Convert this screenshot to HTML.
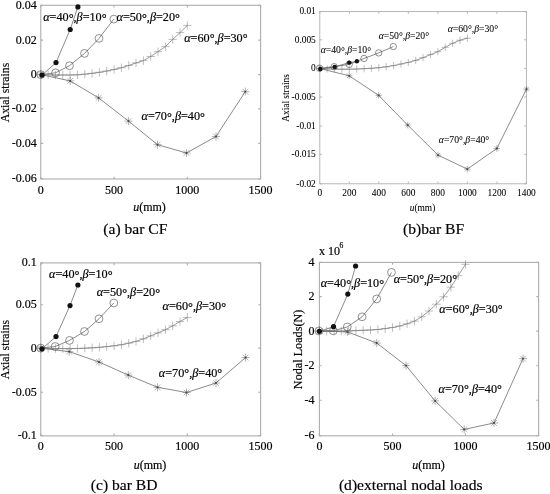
<!DOCTYPE html>
<html><head><meta charset="utf-8"><title>figure</title>
<style>
html,body{margin:0;padding:0;background:#fff}
svg{display:block}
text{font-family:"Liberation Serif",serif;fill:#000;stroke:#000;stroke-width:0.18px}
.i{font-style:italic}
.sm text{stroke-width:0.06px}
.c{font-size:15.6px}
</style></head><body>
<svg width="550" height="494" viewBox="0 0 550 494">
<rect width="550" height="494" fill="#fff"/>
<rect x="40.8" y="5.3" width="219.8" height="173.7" fill="none" stroke="#adadad" stroke-width="1.1"/>
<path d="M40.8 179.0v-2.3M40.8 5.3v2.3" stroke="#adadad" stroke-width="1.1" fill="none"/>
<text x="40.8" y="194.0" text-anchor="middle" font-size="12">0</text>
<path d="M114.1 179.0v-2.3M114.1 5.3v2.3" stroke="#adadad" stroke-width="1.1" fill="none"/>
<text x="114.1" y="194.0" text-anchor="middle" font-size="12">500</text>
<path d="M187.3 179.0v-2.3M187.3 5.3v2.3" stroke="#adadad" stroke-width="1.1" fill="none"/>
<text x="187.3" y="194.0" text-anchor="middle" font-size="12">1000</text>
<path d="M260.6 179.0v-2.3M260.6 5.3v2.3" stroke="#adadad" stroke-width="1.1" fill="none"/>
<text x="260.6" y="194.0" text-anchor="middle" font-size="12">1500</text>
<path d="M40.8 5.3h2.3M260.6 5.3h-2.3" stroke="#adadad" stroke-width="1.1" fill="none"/>
<text x="36.8" y="8.7" text-anchor="end" font-size="12">0.04</text>
<path d="M40.8 40.1h2.3M260.6 40.1h-2.3" stroke="#adadad" stroke-width="1.1" fill="none"/>
<text x="36.8" y="43.5" text-anchor="end" font-size="12">0.02</text>
<path d="M40.8 74.6h2.3M260.6 74.6h-2.3" stroke="#adadad" stroke-width="1.1" fill="none"/>
<text x="36.8" y="78.0" text-anchor="end" font-size="12">0</text>
<path d="M40.8 108.9h2.3M260.6 108.9h-2.3" stroke="#adadad" stroke-width="1.1" fill="none"/>
<text x="36.8" y="112.3" text-anchor="end" font-size="12">-0.02</text>
<path d="M40.8 143.4h2.3M260.6 143.4h-2.3" stroke="#adadad" stroke-width="1.1" fill="none"/>
<text x="36.8" y="146.8" text-anchor="end" font-size="12">-0.04</text>
<path d="M40.8 179.0h2.3M260.6 179.0h-2.3" stroke="#adadad" stroke-width="1.1" fill="none"/>
<text x="36.8" y="182.4" text-anchor="end" font-size="12">-0.06</text>
<path d="M42.0 75.1 L56.0 62.6 L70.2 29.5 L77.9 6.9" fill="none" stroke="#3c3c3c" stroke-width="0.6"/>
<path d="M40.7 74.6 L55.5 72.8 L69.5 65.7 L84.5 53.4 L99.0 38.4 L113.8 19.1" fill="none" stroke="#3c3c3c" stroke-width="0.6"/>
<path d="M40.8 74.6 L48.1 74.9 L55.5 75.0 L62.8 75.0 L70.1 75.0 L77.4 74.8 L84.8 74.2 L92.1 73.3 L99.4 72.3 L106.7 71.0 L114.1 69.5 L121.4 67.7 L128.7 65.5 L136.0 62.9 L143.4 60.6 L150.7 56.5 L158.0 51.7 L165.4 46.6 L172.7 39.4 L180.0 32.6 L187.3 25.4" fill="none" stroke="#3c3c3c" stroke-width="0.5"/>
<path d="M41.0 74.6 L70.2 80.9 L98.6 97.9 L128.5 121.1 L157.5 144.7 L186.5 153.0 L216.0 136.5 L245.3 91.6" fill="none" stroke="#3c3c3c" stroke-width="0.6"/>
<circle cx="40.7" cy="74.6" r="3.9" fill="none" stroke="#555" stroke-width="0.65"/>
<circle cx="55.5" cy="72.8" r="3.9" fill="none" stroke="#555" stroke-width="0.65"/>
<circle cx="69.5" cy="65.7" r="3.9" fill="none" stroke="#555" stroke-width="0.65"/>
<circle cx="84.5" cy="53.4" r="3.9" fill="none" stroke="#555" stroke-width="0.65"/>
<circle cx="99.0" cy="38.4" r="3.9" fill="none" stroke="#555" stroke-width="0.65"/>
<circle cx="113.8" cy="19.1" r="3.9" fill="none" stroke="#555" stroke-width="0.65"/>
<path d="M36.6 74.6h8.4M40.8 70.4v8.4M43.9 74.9h8.4M48.1 70.7v8.4M51.3 75.0h8.4M55.5 70.8v8.4M58.6 75.0h8.4M62.8 70.8v8.4M65.9 75.0h8.4M70.1 70.8v8.4M73.2 74.8h8.4M77.4 70.6v8.4M80.6 74.2h8.4M84.8 70.0v8.4M87.9 73.3h8.4M92.1 69.1v8.4M95.2 72.3h8.4M99.4 68.1v8.4M102.5 71.0h8.4M106.7 66.8v8.4M109.9 69.5h8.4M114.1 65.3v8.4M117.2 67.7h8.4M121.4 63.5v8.4M124.5 65.5h8.4M128.7 61.3v8.4M131.8 62.9h8.4M136.0 58.7v8.4M139.2 60.6h8.4M143.4 56.4v8.4M146.5 56.5h8.4M150.7 52.3v8.4M153.8 51.7h8.4M158.0 47.5v8.4M161.2 46.6h8.4M165.4 42.4v8.4M168.5 39.4h8.4M172.7 35.2v8.4M175.8 32.6h8.4M180.0 28.4v8.4M183.1 25.4h8.4M187.3 21.2v8.4" fill="none" stroke="#7c7c7c" stroke-width="0.5"/>
<path d="M37.0 74.6h8.0M41.0 70.6v8.0M38.2 71.8l5.7 5.7M38.2 77.4l5.7 -5.7M66.2 80.9h8.0M70.2 76.9v8.0M67.4 78.1l5.7 5.7M67.4 83.7l5.7 -5.7M94.6 97.9h8.0M98.6 93.9v8.0M95.8 95.1l5.7 5.7M95.8 100.7l5.7 -5.7M124.5 121.1h8.0M128.5 117.1v8.0M125.7 118.3l5.7 5.7M125.7 123.9l5.7 -5.7M153.5 144.7h8.0M157.5 140.7v8.0M154.7 141.9l5.7 5.7M154.7 147.5l5.7 -5.7M182.5 153.0h8.0M186.5 149.0v8.0M183.7 150.2l5.7 5.7M183.7 155.8l5.7 -5.7M212.0 136.5h8.0M216.0 132.5v8.0M213.2 133.7l5.7 5.7M213.2 139.3l5.7 -5.7M241.3 91.6h8.0M245.3 87.6v8.0M242.5 88.8l5.7 5.7M242.5 94.4l5.7 -5.7" fill="none" stroke="#666" stroke-width="0.5"/>
<circle cx="41.0" cy="74.6" r="0.9" fill="#444"/>
<circle cx="70.2" cy="80.9" r="0.9" fill="#444"/>
<circle cx="98.6" cy="97.9" r="0.9" fill="#444"/>
<circle cx="128.5" cy="121.1" r="0.9" fill="#444"/>
<circle cx="157.5" cy="144.7" r="0.9" fill="#444"/>
<circle cx="186.5" cy="153.0" r="0.9" fill="#444"/>
<circle cx="216.0" cy="136.5" r="0.9" fill="#444"/>
<circle cx="245.3" cy="91.6" r="0.9" fill="#444"/>
<circle cx="42.0" cy="75.1" r="2.6" fill="#111"/>
<circle cx="56.0" cy="62.6" r="2.6" fill="#111"/>
<circle cx="70.2" cy="29.5" r="2.6" fill="#111"/>
<circle cx="77.9" cy="6.9" r="2.6" fill="#111"/>
<text x="43.2" y="21.1" class="l" font-size="12.2"><tspan class="i">α</tspan>=40<tspan dy="0.79">°</tspan><tspan dy="-0.79">,</tspan><tspan class="i">β</tspan>=10<tspan dy="0.79">°</tspan></text>
<text x="116.5" y="21.1" class="l" font-size="12.2"><tspan class="i">α</tspan>=50<tspan dy="0.79">°</tspan><tspan dy="-0.79">,</tspan><tspan class="i">β</tspan>=20<tspan dy="0.79">°</tspan></text>
<text x="184.2" y="41.6" class="l" font-size="12.2"><tspan class="i">α</tspan>=60<tspan dy="0.79">°</tspan><tspan dy="-0.79">,</tspan><tspan class="i">β</tspan>=30<tspan dy="0.79">°</tspan></text>
<text x="141.5" y="119.8" class="l" font-size="12.2"><tspan class="i">α</tspan>=70<tspan dy="0.79">°</tspan><tspan dy="-0.79">,</tspan><tspan class="i">β</tspan>=40<tspan dy="0.79">°</tspan></text>
<text transform="translate(9.0 92.5) rotate(-90)" text-anchor="middle" font-size="11.7">Axial strains</text>
<text x="149.5" y="211.4" text-anchor="middle" font-size="12"><tspan class="i">u</tspan>(mm)</text>
<text x="135.4" y="234.0" text-anchor="middle" class="c">(a) bar CF</text>
<g class="sm">
<rect x="319.8" y="11.5" width="206.6" height="172.3" fill="none" stroke="#b0b0b0" stroke-width="0.9"/>
<path d="M319.8 183.8v-2.3M319.8 11.5v2.3" stroke="#b0b0b0" stroke-width="0.9" fill="none"/>
<text x="319.8" y="195.7" text-anchor="middle" font-size="9.4">0</text>
<path d="M349.3 183.8v-2.3M349.3 11.5v2.3" stroke="#b0b0b0" stroke-width="0.9" fill="none"/>
<text x="349.3" y="195.7" text-anchor="middle" font-size="9.4">200</text>
<path d="M378.8 183.8v-2.3M378.8 11.5v2.3" stroke="#b0b0b0" stroke-width="0.9" fill="none"/>
<text x="378.8" y="195.7" text-anchor="middle" font-size="9.4">400</text>
<path d="M408.3 183.8v-2.3M408.3 11.5v2.3" stroke="#b0b0b0" stroke-width="0.9" fill="none"/>
<text x="408.3" y="195.7" text-anchor="middle" font-size="9.4">600</text>
<path d="M437.9 183.8v-2.3M437.9 11.5v2.3" stroke="#b0b0b0" stroke-width="0.9" fill="none"/>
<text x="437.9" y="195.7" text-anchor="middle" font-size="9.4">800</text>
<path d="M467.4 183.8v-2.3M467.4 11.5v2.3" stroke="#b0b0b0" stroke-width="0.9" fill="none"/>
<text x="467.4" y="195.7" text-anchor="middle" font-size="9.4">1000</text>
<path d="M496.9 183.8v-2.3M496.9 11.5v2.3" stroke="#b0b0b0" stroke-width="0.9" fill="none"/>
<text x="496.9" y="195.7" text-anchor="middle" font-size="9.4">1200</text>
<path d="M526.4 183.8v-2.3M526.4 11.5v2.3" stroke="#b0b0b0" stroke-width="0.9" fill="none"/>
<text x="526.4" y="195.7" text-anchor="middle" font-size="9.4">1400</text>
<path d="M319.8 11.5h2.3M526.4 11.5h-2.3" stroke="#b0b0b0" stroke-width="0.9" fill="none"/>
<text x="315.8" y="14.3" text-anchor="end" font-size="9.4">0.01</text>
<path d="M319.8 39.8h2.3M526.4 39.8h-2.3" stroke="#b0b0b0" stroke-width="0.9" fill="none"/>
<text x="315.8" y="42.6" text-anchor="end" font-size="9.4">0.005</text>
<path d="M319.8 68.3h2.3M526.4 68.3h-2.3" stroke="#b0b0b0" stroke-width="0.9" fill="none"/>
<text x="315.8" y="71.1" text-anchor="end" font-size="9.4">0</text>
<path d="M319.8 97.0h2.3M526.4 97.0h-2.3" stroke="#b0b0b0" stroke-width="0.9" fill="none"/>
<text x="315.8" y="99.8" text-anchor="end" font-size="9.4">-0.005</text>
<path d="M319.8 126.0h2.3M526.4 126.0h-2.3" stroke="#b0b0b0" stroke-width="0.9" fill="none"/>
<text x="315.8" y="128.8" text-anchor="end" font-size="9.4">-0.01</text>
<path d="M319.8 154.3h2.3M526.4 154.3h-2.3" stroke="#b0b0b0" stroke-width="0.9" fill="none"/>
<text x="315.8" y="157.1" text-anchor="end" font-size="9.4">-0.015</text>
<path d="M319.8 183.8h2.3M526.4 183.8h-2.3" stroke="#b0b0b0" stroke-width="0.9" fill="none"/>
<text x="315.8" y="186.6" text-anchor="end" font-size="9.4">-0.02</text>
<path d="M320.2 69.0 L334.7 66.9 L349.2 62.6 L356.9 61.3" fill="none" stroke="#3c3c3c" stroke-width="0.6"/>
<path d="M319.5 68.2 L334.2 66.7 L349.2 64.4 L364.0 58.5 L378.7 52.9 L393.3 46.6" fill="none" stroke="#3c3c3c" stroke-width="0.6"/>
<path d="M319.8 68.6 L327.2 68.9 L334.6 69.1 L341.9 69.2 L349.3 69.2 L356.7 69.0 L364.1 68.7 L371.4 68.3 L378.8 67.7 L386.2 66.8 L393.6 65.6 L401.0 64.0 L408.3 62.4 L415.7 60.4 L423.1 57.6 L430.5 54.6 L437.9 51.7 L445.2 47.3 L452.6 43.3 L460.0 40.2 L467.4 38.2" fill="none" stroke="#3c3c3c" stroke-width="0.5"/>
<path d="M320.2 68.6 L349.2 75.8 L378.7 95.4 L407.7 125.1 L438.0 155.1 L467.3 169.1 L496.8 148.5 L526.5 89.1" fill="none" stroke="#3c3c3c" stroke-width="0.6"/>
<circle cx="319.5" cy="68.2" r="3.2" fill="none" stroke="#555" stroke-width="0.65"/>
<circle cx="334.2" cy="66.7" r="3.2" fill="none" stroke="#555" stroke-width="0.65"/>
<circle cx="349.2" cy="64.4" r="3.2" fill="none" stroke="#555" stroke-width="0.65"/>
<circle cx="364.0" cy="58.5" r="3.2" fill="none" stroke="#555" stroke-width="0.65"/>
<circle cx="378.7" cy="52.9" r="3.2" fill="none" stroke="#555" stroke-width="0.65"/>
<circle cx="393.3" cy="46.6" r="3.2" fill="none" stroke="#555" stroke-width="0.65"/>
<path d="M316.2 68.6h7.2M319.8 65.0v7.2M323.6 68.9h7.2M327.2 65.3v7.2M331.0 69.1h7.2M334.6 65.5v7.2M338.3 69.2h7.2M341.9 65.6v7.2M345.7 69.2h7.2M349.3 65.6v7.2M353.1 69.0h7.2M356.7 65.4v7.2M360.5 68.7h7.2M364.1 65.1v7.2M367.8 68.3h7.2M371.4 64.7v7.2M375.2 67.7h7.2M378.8 64.1v7.2M382.6 66.8h7.2M386.2 63.2v7.2M390.0 65.6h7.2M393.6 62.0v7.2M397.4 64.0h7.2M401.0 60.4v7.2M404.7 62.4h7.2M408.3 58.8v7.2M412.1 60.4h7.2M415.7 56.8v7.2M419.5 57.6h7.2M423.1 54.0v7.2M426.9 54.6h7.2M430.5 51.0v7.2M434.3 51.7h7.2M437.9 48.1v7.2M441.6 47.3h7.2M445.2 43.7v7.2M449.0 43.3h7.2M452.6 39.7v7.2M456.4 40.2h7.2M460.0 36.6v7.2M463.8 38.2h7.2M467.4 34.6v7.2" fill="none" stroke="#7c7c7c" stroke-width="0.5"/>
<path d="M317.0 68.6h6.4M320.2 65.4v6.4M317.9 66.3l4.5 4.5M317.9 70.9l4.5 -4.5M346.0 75.8h6.4M349.2 72.6v6.4M346.9 73.5l4.5 4.5M346.9 78.1l4.5 -4.5M375.5 95.4h6.4M378.7 92.2v6.4M376.4 93.1l4.5 4.5M376.4 97.7l4.5 -4.5M404.5 125.1h6.4M407.7 121.9v6.4M405.4 122.8l4.5 4.5M405.4 127.4l4.5 -4.5M434.8 155.1h6.4M438.0 151.9v6.4M435.7 152.8l4.5 4.5M435.7 157.4l4.5 -4.5M464.1 169.1h6.4M467.3 165.9v6.4M465.0 166.8l4.5 4.5M465.0 171.4l4.5 -4.5M493.6 148.5h6.4M496.8 145.3v6.4M494.5 146.2l4.5 4.5M494.5 150.8l4.5 -4.5M523.3 89.1h6.4M526.5 85.9v6.4M524.2 86.8l4.5 4.5M524.2 91.4l4.5 -4.5" fill="none" stroke="#666" stroke-width="0.5"/>
<circle cx="320.2" cy="68.6" r="0.9" fill="#444"/>
<circle cx="349.2" cy="75.8" r="0.9" fill="#444"/>
<circle cx="378.7" cy="95.4" r="0.9" fill="#444"/>
<circle cx="407.7" cy="125.1" r="0.9" fill="#444"/>
<circle cx="438.0" cy="155.1" r="0.9" fill="#444"/>
<circle cx="467.3" cy="169.1" r="0.9" fill="#444"/>
<circle cx="496.8" cy="148.5" r="0.9" fill="#444"/>
<circle cx="526.5" cy="89.1" r="0.9" fill="#444"/>
<circle cx="320.2" cy="69.0" r="2.2" fill="#111"/>
<circle cx="334.7" cy="66.9" r="2.2" fill="#111"/>
<circle cx="349.2" cy="62.6" r="2.2" fill="#111"/>
<circle cx="356.9" cy="61.3" r="2.2" fill="#111"/>
<text x="320.7" y="53.3" class="l" font-size="9.7"><tspan class="i">α</tspan>=40<tspan dy="1.20">°</tspan><tspan dy="-1.20">,</tspan><tspan class="i">β</tspan>=10<tspan dy="1.20">°</tspan></text>
<text x="378.7" y="38.9" class="l" font-size="9.7"><tspan class="i">α</tspan>=50<tspan dy="1.20">°</tspan><tspan dy="-1.20">,</tspan><tspan class="i">β</tspan>=20<tspan dy="1.20">°</tspan></text>
<text x="447.7" y="31.9" class="l" font-size="9.7"><tspan class="i">α</tspan>=60<tspan dy="1.20">°</tspan><tspan dy="-1.20">,</tspan><tspan class="i">β</tspan>=30<tspan dy="1.20">°</tspan></text>
<text x="438.8" y="142.6" class="l" font-size="9.7"><tspan class="i">α</tspan>=70<tspan dy="1.20">°</tspan><tspan dy="-1.20">,</tspan><tspan class="i">β</tspan>=40<tspan dy="1.20">°</tspan></text>
<text transform="translate(289.4 98) rotate(-90)" text-anchor="middle" font-size="9.4">Axial strains</text>
<text x="422.5" y="210.9" text-anchor="middle" font-size="9.4"><tspan class="i">u</tspan>(mm)</text>
</g>
<text x="433.6" y="234.2" text-anchor="middle" class="c">(b)bar BF</text>
<rect x="40.8" y="262.9" width="219.8" height="173.0" fill="none" stroke="#adadad" stroke-width="1.1"/>
<path d="M40.8 435.9v-2.3M40.8 262.9v2.3" stroke="#adadad" stroke-width="1.1" fill="none"/>
<text x="40.8" y="450.1" text-anchor="middle" font-size="12">0</text>
<path d="M114.1 435.9v-2.3M114.1 262.9v2.3" stroke="#adadad" stroke-width="1.1" fill="none"/>
<text x="114.1" y="450.1" text-anchor="middle" font-size="12">500</text>
<path d="M187.3 435.9v-2.3M187.3 262.9v2.3" stroke="#adadad" stroke-width="1.1" fill="none"/>
<text x="187.3" y="450.1" text-anchor="middle" font-size="12">1000</text>
<path d="M260.6 435.9v-2.3M260.6 262.9v2.3" stroke="#adadad" stroke-width="1.1" fill="none"/>
<text x="260.6" y="450.1" text-anchor="middle" font-size="12">1500</text>
<path d="M40.8 262.9h2.3M260.6 262.9h-2.3" stroke="#adadad" stroke-width="1.1" fill="none"/>
<text x="36.8" y="266.3" text-anchor="end" font-size="12">0.1</text>
<path d="M40.8 304.8h2.3M260.6 304.8h-2.3" stroke="#adadad" stroke-width="1.1" fill="none"/>
<text x="36.8" y="308.2" text-anchor="end" font-size="12">0.05</text>
<path d="M40.8 348.1h2.3M260.6 348.1h-2.3" stroke="#adadad" stroke-width="1.1" fill="none"/>
<text x="36.8" y="351.5" text-anchor="end" font-size="12">0</text>
<path d="M40.8 392.2h2.3M260.6 392.2h-2.3" stroke="#adadad" stroke-width="1.1" fill="none"/>
<text x="36.8" y="395.6" text-anchor="end" font-size="12">-0.05</text>
<path d="M40.8 435.5h2.3M260.6 435.5h-2.3" stroke="#adadad" stroke-width="1.1" fill="none"/>
<text x="36.8" y="438.9" text-anchor="end" font-size="12">-0.1</text>
<path d="M42.0 348.8 L56.0 336.6 L70.0 305.6 L77.9 285.0" fill="none" stroke="#3c3c3c" stroke-width="0.6"/>
<path d="M40.7 348.1 L55.2 346.5 L69.5 340.4 L84.5 331.5 L99.0 318.8 L113.8 303.0" fill="none" stroke="#3c3c3c" stroke-width="0.6"/>
<path d="M40.8 348.1 L48.1 348.4 L55.5 348.5 L62.8 348.6 L70.1 348.6 L77.4 348.5 L84.8 348.2 L92.1 347.8 L99.4 347.3 L106.7 346.6 L114.1 345.8 L121.4 344.7 L128.7 343.2 L136.0 341.4 L143.4 338.8 L150.7 335.9 L158.0 332.9 L165.4 329.7 L172.7 325.9 L180.0 321.5 L187.3 317.5" fill="none" stroke="#3c3c3c" stroke-width="0.5"/>
<path d="M41.0 348.3 L69.2 351.6 L99.0 362.0 L128.3 375.1 L157.5 387.3 L186.5 392.5 L216.0 383.0 L245.6 357.5" fill="none" stroke="#3c3c3c" stroke-width="0.6"/>
<circle cx="40.7" cy="348.1" r="3.9" fill="none" stroke="#555" stroke-width="0.65"/>
<circle cx="55.2" cy="346.5" r="3.9" fill="none" stroke="#555" stroke-width="0.65"/>
<circle cx="69.5" cy="340.4" r="3.9" fill="none" stroke="#555" stroke-width="0.65"/>
<circle cx="84.5" cy="331.5" r="3.9" fill="none" stroke="#555" stroke-width="0.65"/>
<circle cx="99.0" cy="318.8" r="3.9" fill="none" stroke="#555" stroke-width="0.65"/>
<circle cx="113.8" cy="303.0" r="3.9" fill="none" stroke="#555" stroke-width="0.65"/>
<path d="M36.6 348.1h8.4M40.8 343.9v8.4M43.9 348.4h8.4M48.1 344.2v8.4M51.3 348.5h8.4M55.5 344.3v8.4M58.6 348.6h8.4M62.8 344.4v8.4M65.9 348.6h8.4M70.1 344.4v8.4M73.2 348.5h8.4M77.4 344.3v8.4M80.6 348.2h8.4M84.8 344.0v8.4M87.9 347.8h8.4M92.1 343.6v8.4M95.2 347.3h8.4M99.4 343.1v8.4M102.5 346.6h8.4M106.7 342.4v8.4M109.9 345.8h8.4M114.1 341.6v8.4M117.2 344.7h8.4M121.4 340.5v8.4M124.5 343.2h8.4M128.7 339.0v8.4M131.8 341.4h8.4M136.0 337.2v8.4M139.2 338.8h8.4M143.4 334.6v8.4M146.5 335.9h8.4M150.7 331.7v8.4M153.8 332.9h8.4M158.0 328.7v8.4M161.2 329.7h8.4M165.4 325.5v8.4M168.5 325.9h8.4M172.7 321.7v8.4M175.8 321.5h8.4M180.0 317.3v8.4M183.1 317.5h8.4M187.3 313.3v8.4" fill="none" stroke="#7c7c7c" stroke-width="0.5"/>
<path d="M37.0 348.3h8.0M41.0 344.3v8.0M38.2 345.5l5.7 5.7M38.2 351.1l5.7 -5.7M65.2 351.6h8.0M69.2 347.6v8.0M66.4 348.8l5.7 5.7M66.4 354.4l5.7 -5.7M95.0 362.0h8.0M99.0 358.0v8.0M96.2 359.2l5.7 5.7M96.2 364.8l5.7 -5.7M124.3 375.1h8.0M128.3 371.1v8.0M125.5 372.3l5.7 5.7M125.5 377.9l5.7 -5.7M153.5 387.3h8.0M157.5 383.3v8.0M154.7 384.5l5.7 5.7M154.7 390.1l5.7 -5.7M182.5 392.5h8.0M186.5 388.5v8.0M183.7 389.7l5.7 5.7M183.7 395.3l5.7 -5.7M212.0 383.0h8.0M216.0 379.0v8.0M213.2 380.2l5.7 5.7M213.2 385.8l5.7 -5.7M241.6 357.5h8.0M245.6 353.5v8.0M242.8 354.7l5.7 5.7M242.8 360.3l5.7 -5.7" fill="none" stroke="#666" stroke-width="0.5"/>
<circle cx="41.0" cy="348.3" r="0.9" fill="#444"/>
<circle cx="69.2" cy="351.6" r="0.9" fill="#444"/>
<circle cx="99.0" cy="362.0" r="0.9" fill="#444"/>
<circle cx="128.3" cy="375.1" r="0.9" fill="#444"/>
<circle cx="157.5" cy="387.3" r="0.9" fill="#444"/>
<circle cx="186.5" cy="392.5" r="0.9" fill="#444"/>
<circle cx="216.0" cy="383.0" r="0.9" fill="#444"/>
<circle cx="245.6" cy="357.5" r="0.9" fill="#444"/>
<circle cx="42.0" cy="348.8" r="2.6" fill="#111"/>
<circle cx="56.0" cy="336.6" r="2.6" fill="#111"/>
<circle cx="70.0" cy="305.6" r="2.6" fill="#111"/>
<circle cx="77.9" cy="285.0" r="2.6" fill="#111"/>
<text x="49.1" y="278.1" class="l" font-size="12.2"><tspan class="i">α</tspan>=40<tspan dy="0.79">°</tspan><tspan dy="-0.79">,</tspan><tspan class="i">β</tspan>=10<tspan dy="0.79">°</tspan></text>
<text x="96.7" y="295.9" class="l" font-size="12.2"><tspan class="i">α</tspan>=50<tspan dy="0.79">°</tspan><tspan dy="-0.79">,</tspan><tspan class="i">β</tspan>=20<tspan dy="0.79">°</tspan></text>
<text x="162.6" y="310.4" class="l" font-size="12.2"><tspan class="i">α</tspan>=60<tspan dy="0.79">°</tspan><tspan dy="-0.79">,</tspan><tspan class="i">β</tspan>=30<tspan dy="0.79">°</tspan></text>
<text x="158.8" y="376.6" class="l" font-size="12.2"><tspan class="i">α</tspan>=70<tspan dy="0.79">°</tspan><tspan dy="-0.79">,</tspan><tspan class="i">β</tspan>=40<tspan dy="0.79">°</tspan></text>
<text transform="translate(9.0 349.6) rotate(-90)" text-anchor="middle" font-size="11.7">Axial strains</text>
<text x="150" y="468.8" text-anchor="middle" font-size="12"><tspan class="i">u</tspan>(mm)</text>
<text x="124.2" y="490.3" text-anchor="middle" class="c">(c) bar BD</text>
<rect x="319.4" y="262.4" width="219.2" height="173.4" fill="none" stroke="#adadad" stroke-width="1.1"/>
<path d="M319.4 435.8v-2.3M319.4 262.4v2.3" stroke="#adadad" stroke-width="1.1" fill="none"/>
<text x="319.4" y="450.4" text-anchor="middle" font-size="12">0</text>
<path d="M392.5 435.8v-2.3M392.5 262.4v2.3" stroke="#adadad" stroke-width="1.1" fill="none"/>
<text x="392.5" y="450.4" text-anchor="middle" font-size="12">500</text>
<path d="M465.5 435.8v-2.3M465.5 262.4v2.3" stroke="#adadad" stroke-width="1.1" fill="none"/>
<text x="465.5" y="450.4" text-anchor="middle" font-size="12">1000</text>
<path d="M538.6 435.8v-2.3M538.6 262.4v2.3" stroke="#adadad" stroke-width="1.1" fill="none"/>
<text x="538.6" y="450.4" text-anchor="middle" font-size="12">1500</text>
<path d="M319.4 262.4h2.3M538.6 262.4h-2.3" stroke="#adadad" stroke-width="1.1" fill="none"/>
<text x="314.6" y="265.8" text-anchor="end" font-size="12">4</text>
<path d="M319.4 296.6h2.3M538.6 296.6h-2.3" stroke="#adadad" stroke-width="1.1" fill="none"/>
<text x="314.6" y="300.0" text-anchor="end" font-size="12">2</text>
<path d="M319.4 331.1h2.3M538.6 331.1h-2.3" stroke="#adadad" stroke-width="1.1" fill="none"/>
<text x="314.6" y="334.5" text-anchor="end" font-size="12">0</text>
<path d="M319.4 365.7h2.3M538.6 365.7h-2.3" stroke="#adadad" stroke-width="1.1" fill="none"/>
<text x="314.6" y="369.1" text-anchor="end" font-size="12">-2</text>
<path d="M319.4 400.3h2.3M538.6 400.3h-2.3" stroke="#adadad" stroke-width="1.1" fill="none"/>
<text x="314.6" y="403.7" text-anchor="end" font-size="12">-4</text>
<path d="M319.4 435.8h2.3M538.6 435.8h-2.3" stroke="#adadad" stroke-width="1.1" fill="none"/>
<text x="314.6" y="439.2" text-anchor="end" font-size="12">-6</text>
<path d="M319.4 331.3 L333.5 326.7 L347.8 294.1 L355.6 266.0" fill="none" stroke="#3c3c3c" stroke-width="0.6"/>
<path d="M318.9 330.9 L333.3 330.8 L347.3 326.9 L362.1 316.8 L376.7 298.9 L391.5 272.4" fill="none" stroke="#3c3c3c" stroke-width="0.6"/>
<path d="M319.4 331.0 L326.7 331.1 L334.0 331.1 L341.3 331.0 L348.6 330.9 L355.9 330.6 L363.2 330.3 L370.5 330.0 L377.9 329.5 L385.2 328.6 L392.5 327.5 L399.8 326.0 L407.1 323.8 L414.4 321.2 L421.7 316.8 L429.0 311.0 L436.3 304.2 L443.6 296.8 L450.9 287.2 L458.2 275.7 L465.5 264.3" fill="none" stroke="#3c3c3c" stroke-width="0.5"/>
<path d="M319.4 331.0 L347.4 331.9 L376.7 343.0 L406.0 365.6 L435.1 400.9 L464.2 429.4 L494.0 423.0 L523.0 358.6" fill="none" stroke="#3c3c3c" stroke-width="0.6"/>
<circle cx="318.9" cy="330.9" r="3.9" fill="none" stroke="#555" stroke-width="0.65"/>
<circle cx="333.3" cy="330.8" r="3.9" fill="none" stroke="#555" stroke-width="0.65"/>
<circle cx="347.3" cy="326.9" r="3.9" fill="none" stroke="#555" stroke-width="0.65"/>
<circle cx="362.1" cy="316.8" r="3.9" fill="none" stroke="#555" stroke-width="0.65"/>
<circle cx="376.7" cy="298.9" r="3.9" fill="none" stroke="#555" stroke-width="0.65"/>
<circle cx="391.5" cy="272.4" r="3.9" fill="none" stroke="#555" stroke-width="0.65"/>
<path d="M315.2 331.0h8.4M319.4 326.8v8.4M322.5 331.1h8.4M326.7 326.9v8.4M329.8 331.1h8.4M334.0 326.9v8.4M337.1 331.0h8.4M341.3 326.8v8.4M344.4 330.9h8.4M348.6 326.7v8.4M351.7 330.6h8.4M355.9 326.4v8.4M359.0 330.3h8.4M363.2 326.1v8.4M366.3 330.0h8.4M370.5 325.8v8.4M373.7 329.5h8.4M377.9 325.3v8.4M381.0 328.6h8.4M385.2 324.4v8.4M388.3 327.5h8.4M392.5 323.3v8.4M395.6 326.0h8.4M399.8 321.8v8.4M402.9 323.8h8.4M407.1 319.6v8.4M410.2 321.2h8.4M414.4 317.0v8.4M417.5 316.8h8.4M421.7 312.6v8.4M424.8 311.0h8.4M429.0 306.8v8.4M432.1 304.2h8.4M436.3 300.0v8.4M439.4 296.8h8.4M443.6 292.6v8.4M446.7 287.2h8.4M450.9 283.0v8.4M454.0 275.7h8.4M458.2 271.5v8.4M461.3 264.3h8.4M465.5 260.1v8.4" fill="none" stroke="#7c7c7c" stroke-width="0.5"/>
<path d="M315.4 331.0h8.0M319.4 327.0v8.0M316.6 328.2l5.7 5.7M316.6 333.8l5.7 -5.7M343.4 331.9h8.0M347.4 327.9v8.0M344.6 329.1l5.7 5.7M344.6 334.7l5.7 -5.7M372.7 343.0h8.0M376.7 339.0v8.0M373.9 340.2l5.7 5.7M373.9 345.8l5.7 -5.7M402.0 365.6h8.0M406.0 361.6v8.0M403.2 362.8l5.7 5.7M403.2 368.4l5.7 -5.7M431.1 400.9h8.0M435.1 396.9v8.0M432.3 398.1l5.7 5.7M432.3 403.7l5.7 -5.7M460.2 429.4h8.0M464.2 425.4v8.0M461.4 426.6l5.7 5.7M461.4 432.2l5.7 -5.7M490.0 423.0h8.0M494.0 419.0v8.0M491.2 420.2l5.7 5.7M491.2 425.8l5.7 -5.7M519.0 358.6h8.0M523.0 354.6v8.0M520.2 355.8l5.7 5.7M520.2 361.4l5.7 -5.7" fill="none" stroke="#666" stroke-width="0.5"/>
<circle cx="319.4" cy="331.0" r="0.9" fill="#444"/>
<circle cx="347.4" cy="331.9" r="0.9" fill="#444"/>
<circle cx="376.7" cy="343.0" r="0.9" fill="#444"/>
<circle cx="406.0" cy="365.6" r="0.9" fill="#444"/>
<circle cx="435.1" cy="400.9" r="0.9" fill="#444"/>
<circle cx="464.2" cy="429.4" r="0.9" fill="#444"/>
<circle cx="494.0" cy="423.0" r="0.9" fill="#444"/>
<circle cx="523.0" cy="358.6" r="0.9" fill="#444"/>
<circle cx="319.4" cy="331.3" r="2.6" fill="#111"/>
<circle cx="333.5" cy="326.7" r="2.6" fill="#111"/>
<circle cx="347.8" cy="294.1" r="2.6" fill="#111"/>
<circle cx="355.6" cy="266.0" r="2.6" fill="#111"/>
<text x="320.7" y="287.2" class="l" font-size="12.2"><tspan class="i">α</tspan>=40<tspan dy="0.79">°</tspan><tspan dy="-0.79">,</tspan><tspan class="i">β</tspan>=10<tspan dy="0.79">°</tspan></text>
<text x="393.7" y="282.6" class="l" font-size="12.2"><tspan class="i">α</tspan>=50<tspan dy="0.79">°</tspan><tspan dy="-0.79">,</tspan><tspan class="i">β</tspan>=20<tspan dy="0.79">°</tspan></text>
<text x="439.3" y="312.6" class="l" font-size="12.2"><tspan class="i">α</tspan>=60<tspan dy="0.79">°</tspan><tspan dy="-0.79">,</tspan><tspan class="i">β</tspan>=30<tspan dy="0.79">°</tspan></text>
<text x="438.5" y="392.7" class="l" font-size="12.2"><tspan class="i">α</tspan>=70<tspan dy="0.79">°</tspan><tspan dy="-0.79">,</tspan><tspan class="i">β</tspan>=40<tspan dy="0.79">°</tspan></text>
<text transform="translate(302 349.4) rotate(-90)" text-anchor="middle" font-size="12.2">Nodal Loads(N)</text>
<text x="428.5" y="468.7" text-anchor="middle" font-size="12"><tspan class="i">u</tspan>(mm)</text>
<text x="410.8" y="490.3" text-anchor="middle" class="c">(d)external nodal loads</text>
<text x="319.1" y="255.1" font-size="12">x 10<tspan dy="-7.3" dx="-0.5" font-size="7.6">6</tspan></text>
</svg>
</body></html>
